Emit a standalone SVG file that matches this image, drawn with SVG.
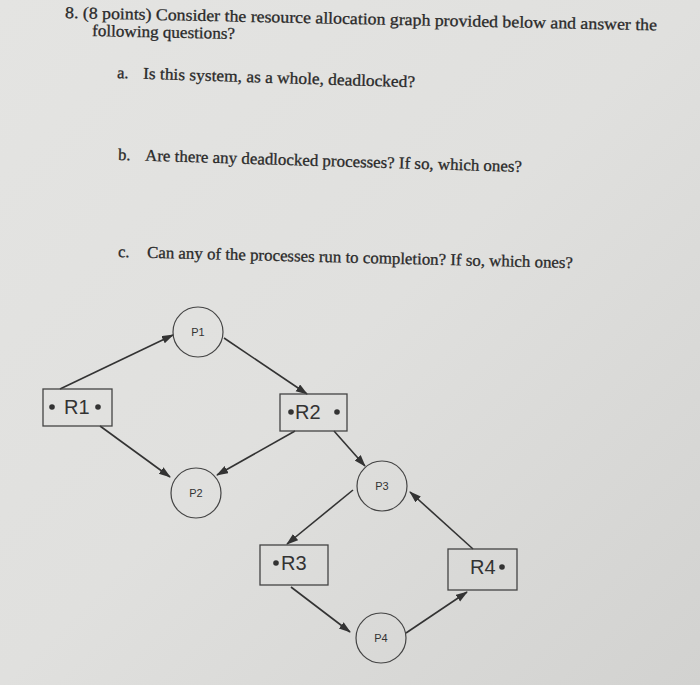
<svg xmlns="http://www.w3.org/2000/svg" width="700" height="685" viewBox="0 0 700 685">
<defs>
<linearGradient id="bg" x1="0" y1="0" x2="1" y2="1">
<stop offset="0" stop-color="#e4e4e2"/>
<stop offset="0.5" stop-color="#e0e0de"/>
<stop offset="1" stop-color="#d2d2d0"/>
</linearGradient>
<marker id="ah" markerWidth="12" markerHeight="10" refX="11" refY="4" orient="auto" markerUnits="userSpaceOnUse">
<path d="M0,0 L12,4 L0,8 Z" fill="#333"/>
</marker>
<style>
.q{font-family:"Liberation Serif","Times New Roman",serif;font-size:16.5px;fill:#2a2a2a;stroke:#2a2a2a;stroke-width:0.3}
.res rect{fill:none;stroke:#444;stroke-width:1.3}
.proc circle{fill:none;stroke:#444;stroke-width:1.2}
.rl{font-family:"Liberation Sans",Arial,sans-serif;font-size:20px;fill:#333}
.pl{font-family:"Liberation Sans",Arial,sans-serif;font-size:11px;fill:#333;text-anchor:middle}
.dot{fill:#333}
.edge line{stroke:#333;stroke-width:1.6;marker-end:url(#ah)}
</style>
</defs>
<rect width="700" height="685" fill="url(#bg)"/>
<g id="questions">
<g transform="rotate(1.2 65 18)">
<text class="q" x="65" y="18" textLength="592" lengthAdjust="spacingAndGlyphs">8.  (8 points) Consider the resource allocation graph provided below and answer the</text>
</g>
<g transform="rotate(1.2 92 36)">
<text class="q" x="92" y="36" textLength="143" lengthAdjust="spacingAndGlyphs">following questions?</text>
</g>
<g transform="rotate(1.8 117 78)">
<text class="q" x="117" y="78">a.</text>
<text class="q" x="143" y="78" textLength="272" lengthAdjust="spacingAndGlyphs">Is this system, as a whole, deadlocked?</text>
</g>
<g transform="rotate(1.7 118 160)">
<text class="q" x="118" y="160">b.</text>
<text class="q" x="145" y="160" textLength="377" lengthAdjust="spacingAndGlyphs">Are there any deadlocked processes? If so, which ones?</text>
</g>
<g transform="rotate(1.4 118 257)">
<text class="q" x="118" y="257">c.</text>
<text class="q" x="147" y="257" textLength="426" lengthAdjust="spacingAndGlyphs">Can any of the processes run to completion?  If so, which ones?</text>
</g>
</g>
<g id="edges" class="edge">
<line x1="60" y1="389" x2="173" y2="335"/>
<line x1="224" y1="338" x2="307" y2="394"/>
<line x1="100" y1="426" x2="170" y2="477"/>
<line x1="295" y1="431" x2="217" y2="475"/>
<line x1="334" y1="431" x2="365" y2="466"/>
<line x1="353" y1="490" x2="287" y2="544"/>
<line x1="473" y1="549" x2="410" y2="492"/>
<line x1="291" y1="587" x2="350" y2="632"/>
<line x1="406" y1="633" x2="467" y2="592"/>
</g>
<g id="P1" class="proc"><circle cx="198" cy="332" r="25"/><text class="pl" x="198" y="336">P1</text></g>
<g id="P2" class="proc"><circle cx="196" cy="493" r="25"/><text class="pl" x="196" y="497">P2</text></g>
<g id="P3" class="proc"><circle cx="382" cy="486" r="25"/><text class="pl" x="382" y="490">P3</text></g>
<g id="P4" class="proc"><circle cx="381" cy="638" r="25"/><text class="pl" x="381" y="642">P4</text></g>
<g id="R1" class="res"><rect x="43" y="389" width="69" height="37"/><circle class="dot" cx="52" cy="407" r="2.8"/><text class="rl" x="64" y="414">R1</text><circle class="dot" cx="98" cy="407" r="2.8"/></g>
<g id="R2" class="res"><rect x="280" y="394" width="67" height="37"/><circle class="dot" cx="291" cy="412" r="2.8"/><text class="rl" x="295" y="419">R2</text><circle class="dot" cx="337" cy="412" r="2.8"/></g>
<g id="R3" class="res"><rect x="260" y="545" width="68" height="40"/><circle class="dot" cx="276" cy="563" r="2.8"/><text class="rl" x="281" y="570">R3</text></g>
<g id="R4" class="res"><rect x="448" y="549" width="69" height="41"/><text class="rl" x="470" y="574">R4</text><circle class="dot" cx="502" cy="567" r="2.8"/></g>
</svg>
